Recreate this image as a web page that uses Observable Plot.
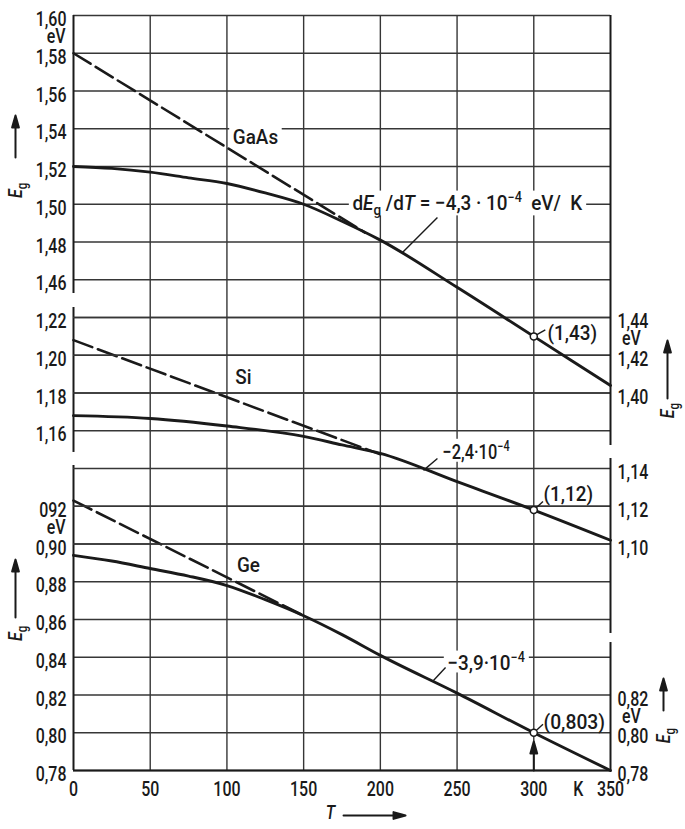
<!DOCTYPE html>
<html><head><meta charset="utf-8">
<script src="https://cdn.jsdelivr.net/npm/d3@7"></script>
<script src="https://cdn.jsdelivr.net/npm/@observablehq/plot@0.6"></script>
<style>
html,body{margin:0;padding:0;background:#fff;}
#chart{position:relative;width:685px;height:829px;overflow:hidden;background:#fff;}
#chart svg{position:absolute;left:0;top:0;background:transparent !important;max-width:none !important;overflow:visible;}
</style></head><body>
<div id="chart"></div>
<script>
// ---------------- DATA ----------------
const temps = [0, 50, 100, 150, 200, 250, 300, 350];
const tempLabels = ["0", "50", "100", "150", "200", "250", "300", "350"];

// GaAs band gap (eV)
const gaasT  = [0, 25, 50, 75, 100, 125, 150, 175, 200, 250, 300, 350];
const gaasEg = [1.520, 1.519, 1.517, 1.514, 1.511, 1.506, 1.500, 1.491, 1.481, 1.456, 1.430, 1.404];
const gaasExtT  = [0, 190];
const gaasExtEg = [1.580, 1.485];
const gaas300 = 1.43;

// Si band gap (eV)
const siT  = [0, 50, 100, 150, 175, 200, 250, 300, 350];
const siEg = [1.168, 1.1665, 1.1625, 1.157, 1.1525, 1.148, 1.133, 1.118, 1.102];
const siExtT  = [0, 200];
const siExtEg = [1.208, 1.1475];
const si300 = 1.118;

// Ge band gap (eV)
const geT  = [0, 25, 50, 75, 100, 125, 150, 175, 200, 250, 300, 350];
const geEg = [0.894, 0.891, 0.887, 0.883, 0.878, 0.8705, 0.862, 0.852, 0.841, 0.821, 0.800, 0.780];
const geExtT  = [0, 150];
const geExtEg = [0.923, 0.862];
const ge300 = 0.800;

// tick values and labels
const gaasLeftTicks  = [1.60, 1.58, 1.56, 1.54, 1.52, 1.50, 1.48, 1.46];
const gaasLeftLabels = ["1,60", "1,58", "1,56", "1,54", "1,52", "1,50", "1,48", "1,46"];
const gaasRightTicks  = [1.44, 1.42, 1.40];
const gaasRightLabels = ["1,44", "1,42", "1,40"];
const siLeftTicks  = [1.22, 1.20, 1.18, 1.16];
const siLeftLabels = ["1,22", "1,20", "1,18", "1,16"];
const siRightTicks  = [1.14, 1.12, 1.10];
const siRightLabels = ["1,14", "1,12", "1,10"];
const geLeftTicks  = [0.92, 0.90, 0.88, 0.86, 0.84, 0.82, 0.80, 0.78];
const geLeftLabels = ["092", "0,90", "0,88", "0,86", "0,84", "0,82", "0,80", "0,78"];
const geRightTicks  = [0.82, 0.80, 0.78];
const geRightLabels = ["0,82", "0,80", "0,78"];

// annotation texts
const gaasName = "GaAs", siName = "Si", geName = "Ge";
const gaasSlope = "dEg/dT = −4,3·10−4 eV/ K";
const siSlope = "−2,4·10−4";
const geSlope = "−3,9·10−4";
const gaasVal = "(1,43)", siVal = "(1,12)", geVal = "(0,803)";
const unitLabel = "eV", eLabel = "Eg", tLabel = "T", kLabel = "K";

// ---------------- STYLE / LAYOUT ----------------
const FONT = 'Roboto,"Liberation Sans",sans-serif';
const INK = "#1a1a1a", GRID = "#363636";
const CONDENSE = 0.76;          // tick lettering
const NOTE_CONDENSE = {         // annotation lettering
  [gaasName]: 0.9, [siName]: 0.9, [geName]: 0.9,
  [gaasSlope]: 0.9, [siSlope]: 0.78, [geSlope]: 0.9,
  [gaasVal]: 0.9, [siVal]: 0.9, [geVal]: 0.92
};
const txt = {fontFamily: FONT, fontSize: 21, fontWeight: 500, fill: INK, lineAnchor: "middle"};
const rows = (ts, vs) => ts.map((t, i) => ({t, eg: vs[i]}));

// filled-head arrow shape for Plot.vector (points "up" in local coordinates)
const headShape = {
  draw(ctx, l) {
    const hl = 12, hw = 3.4;
    ctx.moveTo(0, 0); ctx.lineTo(0, -l + hl);
    ctx.moveTo(0, -l); ctx.lineTo(hw, -l + hl); ctx.lineTo(-hw, -l + hl); ctx.closePath();
  }
};

function build(shape) {
  function layer(domain, marks) {
    return Plot.plot({
      width: 685, height: 829,
      marginTop: 15, marginBottom: 59, marginLeft: 73, marginRight: 75,
      x: {domain: [0, 350], axis: null},
      y: {domain, axis: null},
      style: {background: "transparent", fontFamily: FONT, fontSize: "21px", color: INK},
      marks
    });
  }
  const hGrid = (ticks) => Plot.ruleY(ticks, {stroke: GRID, strokeWidth: 1.4});
  const axisSeg = (x, y1, y2) => Plot.ruleX([x], {y1, y2, stroke: INK, strokeWidth: 2});
  const leftLabels = (ticks, labels) => Plot.text(ticks, {...txt, y: d => d, text: (d, i) => labels[i], frameAnchor: "left", textAnchor: "end", dx: -7, dy: 4});
  const rightLabels = (ticks, labels) => Plot.text(ticks, {...txt, y: d => d, text: (d, i) => labels[i], frameAnchor: "right", textAnchor: "start", dx: 7, dy: 4});
  const unit = (y, side) => Plot.text([unitLabel], {...txt, y: () => y, frameAnchor: side, textAnchor: side === "left" ? "end" : "middle", dx: side === "left" ? -8 : 21, dy: 2});
  const solid = (d) => Plot.line(d, {x: "t", y: "eg", stroke: INK, strokeWidth: 2.9, curve: "monotone-x", strokeLinejoin: "round"});
  const dashed = (d) => Plot.line(d, {x: "t", y: "eg", stroke: INK, strokeWidth: 2.6, strokeDasharray: "20,6"});
  const note = (label, t, eg, anchor) => [
    Plot.text([label], {...txt, x: () => t, y: () => eg, textAnchor: anchor, fill: "white", stroke: "white", strokeWidth: 1}),
    Plot.text([label], {...txt, x: () => t, y: () => eg, textAnchor: anchor})
  ];
  const leader = (t1, e1, t2, e2) => Plot.link([0], {x1: () => t1, y1: () => e1, x2: () => t2, y2: () => e2, stroke: INK, strokeWidth: 1.4});
  const ring = (t, eg) => Plot.dot([{t, eg}], {x: "t", y: "eg", r: 3.5, fill: "white", stroke: INK, strokeWidth: 1.5});
  const arrow = (x, y, length, rotate, dx = 0, dy = 0) => Plot.vector([0], {
    x: () => x, y: () => y, length, rotate, anchor: "start", dx, dy,
    ...(shape ? {shape, fill: INK} : {}), stroke: INK, strokeWidth: 2
  });
  const eArrow = (x, yBase, len, yText, dx) => [
    arrow(x, yBase, len, 0, dx),
    Plot.text([eLabel], {...txt, x: () => x, y: () => yText, dx, rotate: -90})
  ];

  // ---- Ge layer (bottom) ----
  const geN1 = note(geName, 114, 0.8886, "middle");
  const geN2 = note(geSlope, 243.7, 0.8367, "start");
  const geN3 = note(geVal, 306.3, 0.8054, "start");
  const geLayer = layer([0.78, 1.18], [
    Plot.ruleX(temps.slice(1, -1), {stroke: GRID, strokeWidth: 1.4}),
    hGrid(geLeftTicks),
    Plot.ruleY([0.78], {stroke: INK, strokeWidth: 2}),
    axisSeg(0, 0.78, 0.9416),
    axisSeg(350, 0.78, 0.8478),
    leftLabels(geLeftTicks, geLeftLabels),
    rightLabels(geRightTicks, geRightLabels),
    unit(0.91, "left"), unit(0.81, "right"),
    ...eArrow(0, 0.861, 58, 0.8526, -58),
    ...eArrow(350, 0.8118, 32, 0.7985, 53),
    Plot.text(temps, {...txt, x: d => d, text: (d, i) => tempLabels[i], frameAnchor: "bottom", dy: 19}),
    Plot.text([kLabel], {...txt, x: () => 329, frameAnchor: "bottom", dy: 19}),
    Plot.text([tLabel], {...txt, x: () => 167.5, frameAnchor: "bottom", dy: 42, fontStyle: "italic"}),
    arrow(176, 0.78, 62, 90, 0, 45),
    geN1[0], geN2[0], geN3[0],
    dashed(rows(geExtT, geExtEg)),
    solid(rows(geT, geEg)),
    leader(234.6, 0.8277, 242.5, 0.8346),
    leader(300, ge300, 306, 0.8045),
    arrow(300, 0.78, 29, 0),
    ring(300, ge300),
    geN1[1], geN2[1], geN3[1]
  ]);

  // ---- Si layer ----
  const siN1 = note(siName, 110.8, 1.1882, "middle");
  const siN2 = note(siSlope, 240.5, 1.1485, "start");
  const siN3 = note(siVal, 306.3, 1.1262, "start");
  const siLayer = layer([0.98, 1.38], [
    hGrid(siLeftTicks.concat(siRightTicks)),
    axisSeg(0, 1.1485, 1.2253),
    axisSeg(350, 1.0526, 1.1453),
    leftLabels(siLeftTicks, siLeftLabels),
    rightLabels(siRightTicks, siRightLabels),
    siN1[0], siN2[0], siN3[0],
    dashed(rows(siExtT, siExtEg)),
    solid(rows(siT, siEg)),
    leader(228.1, 1.139, 237.2, 1.1453),
    leader(300, si300, 306, 1.1225),
    ring(300, si300),
    siN1[1], siN2[1], siN3[1]
  ]);

  // ---- GaAs layer (top) ----
  const gaN1 = note(gaasName, 118.6, 1.5354, "middle");
  const gaN2 = note(gaasSlope, 181.8, 1.5004, "start");
  const gaN3 = note(gaasVal, 308.9, 1.4315, "start");
  const gaasLayer = layer([1.20, 1.60], [
    hGrid(gaasLeftTicks.concat(gaasRightTicks)),
    axisSeg(0, 1.4527, 1.60),
    axisSeg(350, 1.3722, 1.60),
    leftLabels(gaasLeftTicks, gaasLeftLabels),
    rightLabels(gaasRightTicks, gaasRightLabels),
    unit(1.59, "left"), unit(1.43, "right"),
    ...eArrow(0, 1.5248, 42, 1.5073, -58),
    ...eArrow(350, 1.3971, 58, 1.3907, 57),
    gaN1[0], gaN2[0], gaN3[0],
    dashed(rows(gaasExtT, gaasExtEg)),
    solid(rows(gaasT, gaasEg)),
    leader(214.4, 1.4744, 237.2, 1.493),
    leader(300, gaas300, 307.5, 1.4335),
    ring(300, gaas300),
    gaN1[1], gaN2[1], gaN3[1]
  ]);
  return [geLayer, siLayer, gaasLayer];
}

let layers;
try { layers = build(headShape); } catch (e) { layers = build(null); }
const chart = document.getElementById("chart");
chart.append(...layers);

// condensed lettering (technical-drawing style): scale each label horizontally about its anchor
chart.querySelectorAll("text").forEach(el => {
  const f = NOTE_CONDENSE[el.textContent] ?? CONDENSE;
  const tr = el.getAttribute("transform") || "";
  el.setAttribute("transform", `${tr} scale(${f},1)`.trim());
});
// rich text: italics, subscripts, superscripts
const SUB = '<tspan font-size="15" dy="5">g</tspan>';
const SUP = '<tspan font-size="14" dy="-8">−4</tspan>';
const rich = {
  "Eg": '<tspan font-style="italic">E</tspan>' + SUB,
  [gaasSlope]: 'd<tspan font-style="italic">E</tspan>' + SUB + '<tspan dy="-5">\u00A0/d</tspan><tspan font-style="italic">T</tspan>\u00A0=\u00A0−4,3\u00A0·\u00A010' + SUP + '<tspan dy="8">\u00A0\u00A0eV/\u00A0\u00A0K</tspan>',
  [siSlope]: '−2,4·10' + SUP,
  [geSlope]: '−3,9·10' + SUP
};
chart.querySelectorAll("text").forEach(el => {
  const k = el.textContent;
  if (rich[k]) el.innerHTML = rich[k];
});
// turn the white mask texts into white boxes behind the labels
chart.querySelectorAll('g[stroke="white"] > text').forEach(el => {
  const bb = el.getBBox();
  const r = document.createElementNS("http://www.w3.org/2000/svg", "rect");
  r.setAttribute("x", bb.x - 4);
  r.setAttribute("y", bb.y + 1);
  r.setAttribute("width", bb.width + 8);
  r.setAttribute("height", Math.max(0, bb.height - 4));
  r.setAttribute("fill", "white");
  r.setAttribute("stroke", "none");
  r.setAttribute("transform", el.getAttribute("transform"));
  el.parentNode.insertBefore(r, el);
  el.remove();
});
</script>
</body></html>
